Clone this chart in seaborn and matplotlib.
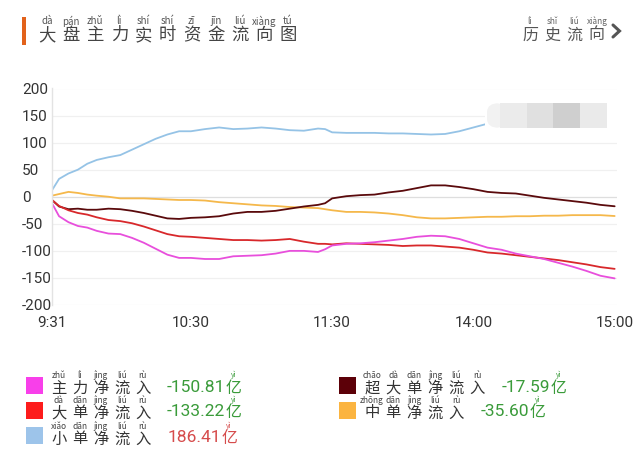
import matplotlib
matplotlib.use('Agg')
import matplotlib.pyplot as plt
import pandas as pd
import seaborn as sns
from matplotlib.patches import Rectangle, FancyBboxPatch
from matplotlib.lines import Line2D

# trading minutes after 9:30 (120 = 11:30 / 13:00, 240 = 15:00)
minutes = [1, 4, 8, 12, 16, 20, 25, 30, 35, 40, 45, 50, 55, 60, 66, 72, 78, 84,
           90, 96, 102, 108, 114, 117, 120, 126, 132, 138, 144, 150, 156, 162,
           168, 174, 180, 186, 192, 198, 204, 210, 216, 222, 228, 234, 240]

xiaodan = [12, 33, 43, 50, 61, 68, 73, 77, 87, 97, 107, 115, 121, 121, 125, 128,
           125, 126, 128, 126, 123, 122, 126, 125, 119, 118, 118, 118, 117, 117,
           116, 115, 116, 121, 128, 135, 145, 152, 158, 164, 170, 175, 180, 184,
           186.41]
zhongdan = [2, 5, 9, 7, 4, 2, 0, -3, -3, -3, -4, -5, -6, -6, -7, -10, -12, -14,
            -16, -17, -19, -20, -21, -23, -25, -28, -28, -29, -31, -34, -38, -40,
            -40, -39, -38, -37, -37, -36, -36, -35, -35, -34, -34, -34, -35.60]
chaoda = [-6, -18, -23, -22, -24, -24, -22, -23, -26, -30, -35, -40, -41, -39,
          -38, -36, -31, -28, -28, -26, -22, -18, -15, -12, -3, 1, 3, 4, 8, 11,
          16, 21, 21, 18, 14, 9, 7, 6, 2, -2, -5, -8, -11, -15, -17.59]
dadan = [-6, -17, -25, -30, -33, -38, -43, -45, -49, -55, -62, -69, -73, -74,
         -76, -78, -80, -80, -81, -80, -78, -83, -87, -87, -88, -86, -87, -88,
         -89, -91, -90, -90, -92, -94, -98, -103, -105, -108, -111, -114, -117,
         -121, -125, -130, -133.22]
zhuli = [-12, -36, -47, -54, -57, -63, -68, -69, -76, -85, -96, -107, -113, -113,
         -115, -115, -110, -109, -108, -105, -100, -100, -102, -97, -90, -87, -86,
         -84, -81, -78, -74, -72, -73, -78, -86, -94, -98, -105, -110, -115, -122,
         -129, -137, -146, -150.81]

tick_pos = [1, 60, 120, 180, 240]
tick_labels = ['9:31', '10:30', '11:30', '14:00', '15:00']
y_ticks = [200, 150, 100, 50, 0, -50, -100, -150, -200]

series_order = ['小单净流入', '中单净流入', '超大单净流入', '大单净流入', '主力净流入']
line_colors = ['#95c3e6', '#f5b84b', '#5a0a0c', '#d8282b', '#e84fdc']

legend_names = ['主力净流入', '大单净流入', '小单净流入', '超大单净流入', '中单净流入']
legend_pinyin = [['zhǔ', 'lì', 'jìng', 'liú', 'rù'],
                 ['dà', 'dān', 'jìng', 'liú', 'rù'],
                 ['xiǎo', 'dān', 'jìng', 'liú', 'rù'],
                 ['chāo', 'dà', 'dān', 'jìng', 'liú', 'rù'],
                 ['zhōng', 'dān', 'jìng', 'liú', 'rù']]
legend_values = ['-150.81', '-133.22', '186.41', '-17.59', '-35.60']
legend_colors = ['#f83fea', '#fd1c1c', '#9dc4ea', '#5c0008', '#fbb440']

title_chars = '大盘主力实时资金流向图'
title_pinyin = ['dà', 'pán', 'zhǔ', 'lì', 'shí', 'shí', 'zī', 'jīn', 'liú', 'xiàng', 'tú']
hist_chars = '历史流向'
hist_pinyin = ['lì', 'shǐ', 'liú', 'xiàng']

sns.set_theme(style='white')
plt.rcParams['font.family'] = ['Noto Sans CJK SC', 'DejaVu Sans']

W, H = 640, 459
fig = plt.figure(figsize=(W / 100, H / 100), dpi=100)
fig.patch.set_facecolor('white')


def fx(x):
    return x / W


def fy(y):
    return 1 - y / H


ax = fig.add_axes([fx(52), fy(305), (617 - 52) / W, (305 - 88.5) / H])

df = pd.DataFrame({'minute': minutes, '小单净流入': xiaodan, '中单净流入': zhongdan,
                   '超大单净流入': chaoda, '大单净流入': dadan, '主力净流入': zhuli})
long = df.melt(id_vars='minute', var_name='series', value_name='value')
sns.lineplot(data=long, x='minute', y='value', hue='series', hue_order=series_order,
             palette=dict(zip(series_order, line_colors)), linewidth=1.3,
             legend=False, ax=ax)

ax.set_xlim(1, 241)
ax.set_ylim(-200, 200)
ax.set_yticks(y_ticks)
ax.set_yticklabels([str(v) for v in y_ticks], ha='left', fontfamily='Roboto',
                   fontsize=11, color='#333333')
ax.set_xticks(tick_pos)
ax.set_xticklabels(tick_labels, fontfamily='Roboto', fontsize=11, color='#333333')
ax.tick_params(axis='y', length=0, pad=21.5)
ax.tick_params(axis='x', length=0, pad=8)
ax.set_xlabel('')
ax.set_ylabel('')
for v in y_ticks:
    ax.axhline(v, color='#dedede' if v == 0 else '#f0f0f0', linewidth=0.9, zorder=0)
for s in ['top', 'right', 'bottom']:
    ax.spines[s].set_visible(False)
ax.spines['left'].set_color('#e3e3e3')
ax.spines['left'].set_linewidth(1)

# blurred tooltip in the top right corner
fig.add_artist(Rectangle((fx(485), fy(140)), 132 / W, 49 / H, transform=fig.transFigure,
                         facecolor='white', edgecolor='none', zorder=5))
fig.add_artist(FancyBboxPatch((fx(487), fy(128)), 20 / W, 25 / H,
                              boxstyle='round,pad=0,rounding_size=0.02',
                              transform=fig.transFigure, facecolor='#f2f2f2',
                              edgecolor='none', zorder=6))
for x0, x1, c in [(500, 527, '#ebebeb'), (527, 553, '#e0e0e0'),
                  (553, 580, '#cfcfcf'), (580, 607, '#eaeaea')]:
    fig.add_artist(Rectangle((fx(x0), fy(128)), (x1 - x0) / W, 25 / H,
                             transform=fig.transFigure, facecolor=c,
                             edgecolor='none', zorder=6))

# header
fig.add_artist(Rectangle((fx(21.5), fy(45)), 4.5 / W, 28 / H, transform=fig.transFigure,
                         facecolor='#e2621b', edgecolor='none'))
for i, (ch, py) in enumerate(zip(title_chars, title_pinyin)):
    x = 47 + i * 24.1
    fig.text(fx(x), fy(35), ch, ha='center', va='center', fontsize=12.5, color='#444444')
    fig.text(fx(x), fy(21.5), py, ha='center', va='center', fontsize=7, color='#555555')
for i, (ch, py) in enumerate(zip(hist_chars, hist_pinyin)):
    x = 530 + i * 22.3
    fig.text(fx(x), fy(35), ch, ha='center', va='center', fontsize=11.5, color='#555555')
    fig.text(fx(x), fy(21.5), py, ha='center', va='center', fontsize=6, color='#666666')
fig.add_artist(Line2D([fx(613), fx(619.5), fx(613)], [fy(25), fy(31), fy(37)],
                      transform=fig.transFigure, color='#555555', linewidth=2.2,
                      solid_joinstyle='miter'))

# legend block
renderer = fig.canvas.get_renderer()
rows = [(26, 59, 20.9, 385, 388), (26, 59, 20.9, 410, 413), (26, 59, 20.9, 435, 439),
        (339, 372, 21.1, 385, 388), (339, 372, 21.1, 410, 413)]
for k, (sq_x, c0, step, sq_y, ty) in enumerate(rows):
    fig.add_artist(Rectangle((fx(sq_x), fy(sq_y + 8.5)), 17 / W, 17 / H,
                             transform=fig.transFigure, facecolor=legend_colors[k],
                             edgecolor='none'))
    name = legend_names[k]
    for i, ch in enumerate(name):
        x = c0 + i * step
        fig.text(fx(x), fy(ty), ch, ha='center', va='center', fontsize=11, color='#333333')
        fig.text(fx(x), fy(ty - 12.5), legend_pinyin[k][i], ha='center', va='center',
                 fontsize=6, color='#444444')
    vcol = '#d64c4c' if not legend_values[k].startswith('-') else '#3a9b3a'
    vx = c0 + (len(name) - 1) * step + 5.5 + 19
    t = fig.text(fx(vx), fy(ty - 1), legend_values[k], ha='left', va='center',
                 fontsize=12.5, family='Roboto', color=vcol)
    bb = t.get_window_extent(renderer)
    yx = bb.x1 + 8.5
    fig.text(fx(yx), fy(ty), '亿', ha='center', va='center', fontsize=11.5, color=vcol)
    fig.text(fx(yx), fy(ty - 13.5), 'yì', ha='center', va='center', fontsize=5,
             color=vcol)

fig.savefig('out.png', dpi=100)
